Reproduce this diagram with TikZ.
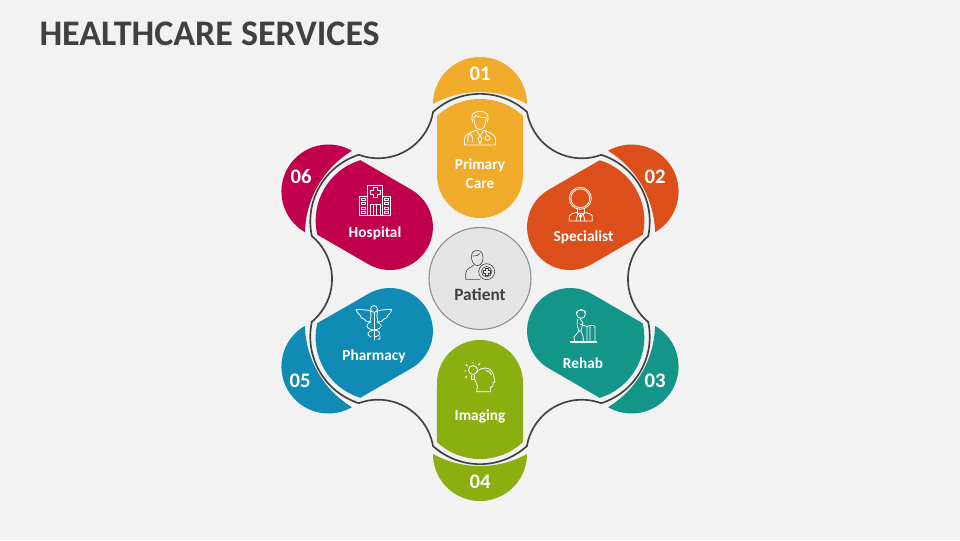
\documentclass[tikz,border=0pt]{standalone}
\usepackage{fontspec}
\setmainfont{Carlito}
\definecolor{bgcol}{HTML}{F2F2F2}
\definecolor{inkcol}{HTML}{404040}
\definecolor{amber}{HTML}{EFAB29}
\definecolor{rust}{HTML}{DC4F1A}
\definecolor{teal}{HTML}{14958A}
\definecolor{olive}{HTML}{8BAF10}
\definecolor{ocean}{HTML}{0F8BB5}
\definecolor{berry}{HTML}{C0004C}
\tikzset{every picture/.style={line width=0.75pt}}
\tikzset{
  icon/.style={draw=white,line width=0.6pt,line join=round,line cap=round},
  darkicon/.style={draw=inkcol,line width=0.45pt,line join=round,line cap=round},
  outline/.style={draw=inkcol,line width=1.25pt,line join=round,line cap=round},
  label/.style={text=white,inner sep=0.75pt,align=center,font=\fontsize{11.5pt}{14.2pt}\selectfont\bfseries},
  number/.style={text=white,inner sep=0.75pt,font=\fontsize{15.5pt}{18pt}\selectfont\bfseries},
  lobe/.pic={
    %petal body
    \path[pic actions] (-43,-104) -- (-43,-163) arc[start angle=226.9,end angle=313.1,radius=63] -- (43,-104) arc[start angle=0,end angle=180,radius=43] -- cycle;
    %number cap
    \path[pic actions] (-47,-175) arc[start angle=180,end angle=360,radius=47] arc[start angle=298.66,end angle=241.34,radius=98] -- cycle;
    %outer line, one lobe and one dent
    \draw[outline] (-47,-167) arc[start angle=227.8,end angle=312.2,radius=70] arc[start angle=170.4,end angle=69.8,radius=55.6];
  }
}
\begin{document}
\begin{tikzpicture}[x=0.75pt,y=0.75pt,yscale=-1,xscale=1]
\fill[bgcol] (0,0) rectangle (960,540);

% Title
\node (title) [anchor=west,inner sep=0.75pt,text=inkcol,font=\fontsize{27pt}{32pt}\selectfont\bfseries] at (38,34) {HEALTHCARE SERVICES};

% Lobes
\pic[fill=amber,yscale=-1,rotate=0] at (480,279) {lobe};
\pic[fill=rust,yscale=-1,rotate=60] at (480,279) {lobe};
\pic[fill=teal,yscale=-1,rotate=120] at (480,279) {lobe};
\pic[fill=olive,yscale=-1,rotate=180] at (480,279) {lobe};
\pic[fill=ocean,yscale=-1,rotate=240] at (480,279) {lobe};
\pic[fill=berry,yscale=-1,rotate=300] at (480,279) {lobe};

% Centre circle
\draw[draw=gray!90,fill=black!10,line width=0.8pt] (480,278.5) circle[radius=51];

% Text Node
\node (num01) [number] at (480,74) {01};
\node (num02) [number] at (655,177) {02};
\node (num03) [number] at (655,381) {03};
\node (num04) [number] at (480,482) {04};
\node (num05) [number] at (300,381) {05};
\node (num06) [number] at (301,177) {06};
\node (primary) [label] at (480,173.5) {Primary\\Care};
\node (specialist) [label] at (583.5,237) {Specialist};
\node (rehab) [label] at (583,363) {Rehab};
\node (imaging) [label] at (480,416.5) {Imaging};
\node (pharmacy) [label] at (374,356.5) {Pharmacy};
\node (hospital) [label] at (375,233) {Hospital};
\node (patient) [inner sep=0.75pt,text=inkcol,font=\fontsize{13pt}{15pt}\selectfont\bfseries] at (480,294) {Patient};

%Icon: doctor
\draw[icon] (472.5,122) .. controls (471,114) and (473,111.5) .. (480,111.5) .. controls (487,111.5) and (489,114) .. (487.5,122);
\draw[icon] (474,117.5) .. controls (474,126) and (476.5,129.5) .. (480,129.5) .. controls (483.5,129.5) and (486,126) .. (486,117.5) .. controls (482,118) and (478,117) .. (476,115) .. controls (476,116) and (475,117) .. (474,117.5);
\draw[icon] (464.5,145) -- (464.5,138.5) .. controls (465,134.5) and (470,133) .. (476,130) -- (480,136) -- (484,130) .. controls (490,133) and (495,134.5) .. (495.5,138.5) -- (495.5,145) -- cycle;
\draw[icon] (480,136) -- (478,139) -- (480,144) -- (482,139) -- cycle;
\draw[icon] (470,133) .. controls (468,135) and (467.5,138) .. (468,142) (470,133) .. controls (472,135) and (473,138) .. (472.5,142);
\draw[icon] (485,131) -- (487.5,135.5);
\draw[icon] (487.5,138) circle[radius=2.4];

%Icon: magnifier and person
\draw[icon] (580.3,198.3) circle[radius=11] (580.3,198.3) circle[radius=9.4];
\draw[icon] (577,209.5) -- (577,213) -- (584,213) -- (584,209.5);
\draw[icon] (569.3,221) -- (569.3,216) .. controls (570,214) and (573,213) .. (577,212.5) (592.3,221) -- (592.3,216) .. controls (591.5,214) and (588,213) .. (584,212.5) (569.3,221) -- (592.3,221);
\draw[icon] (578,213) -- (576,221) (580.5,213) -- (580.5,221) (583,213) -- (585,221) (578,213) -- (580.5,218) -- (583,213);

%Icon: person with walker
\draw[icon] (581,314) circle[radius=4.4];
\draw[icon] (576.5,312.5) .. controls (578,309) and (584,309) .. (585.5,312);
\draw[icon] (578,319) .. controls (576,324) and (578,328) .. (579,331) -- (581,331) -- (583,323) -- (580,319);
\draw[icon] (580,324) -- (588,327);
\draw[icon] (579,331) -- (574,337) -- (574.5,341) (581,331) -- (583,336) -- (583.5,341);
\draw[icon] (587,341) -- (587,326.5) .. controls (589,325) and (594,325) .. (595,326.5) -- (595,341) (590,326) -- (590,341);
\draw[icon] (570.5,341) rectangle (596.5,342.7);

%Icon: head and bulb
\draw[icon] (477,372) .. controls (479,369) and (482,368) .. (485,368) .. controls (491,368) and (494,373) .. (494,378) -- (495,382) -- (493,382.5) -- (493,386) .. controls (493,387) and (491,387) .. (490.5,387) -- (490.5,391.7) -- (476.7,391.7) -- (477.5,386) .. controls (476,382) and (474.5,380) .. (474,377);
\draw[icon] (473,370) circle[radius=4.5];
\draw[icon] (471.5,375) -- (471.5,379) -- (474.5,379) -- (474.5,375);
\draw[icon] (486,370.5) .. controls (489,371) and (491,373) .. (491.5,375);
\draw[icon] (473,363.5) -- (473,362.5) (467.5,366) -- (466,364.5) (478.5,365) -- (480,363.5) (466,371) -- (464.5,371) (467,376) -- (465.5,377.5);

%Icon: caduceus
\draw[icon] (374,312.5) -- (374,340);
\draw[icon] (374,309) circle[radius=3.4];
\draw[icon] (370.5,311) .. controls (366,309.5) and (361,309.5) .. (356,309.5) .. controls (357,312) and (358,314) .. (360,315) .. controls (360,317) and (362,319) .. (364,319) .. controls (365,321) and (367,322) .. (370,322) -- (371,316) -- (370.5,311);
\draw[icon] (377.5,311) .. controls (382,309.5) and (387,309.5) .. (391.7,309.5) .. controls (391,312) and (390,314) .. (388,315) .. controls (388,317) and (386,319) .. (384,319) .. controls (383,321) and (381,322) .. (378,322) -- (377,316) -- (377.5,311);
\draw[icon] (371,322) .. controls (364,325) and (366,329) .. (374,330) .. controls (381,331) and (382,335) .. (375,337) (377,322) .. controls (384,325) and (382,329) .. (374,330) .. controls (367,331) and (366,335) .. (371,337);
\draw[icon] (378,339.5) .. controls (380,339.5) and (380.5,338) .. (380,336);

%Icon: hospital
\draw[icon] (367.3,215.7) -- (367.3,185) -- (382.7,185) -- (382.7,215.7);
\draw[icon] (359.3,215.7) rectangle (367.3,196);
\draw[icon] (382.7,215.7) rectangle (390.7,196);
\draw[icon] (359.3,215.7) -- (390.7,215.7);
\draw[icon] (373,187.3) -- (377,187.3) -- (377,190.5) -- (380,190.5) -- (380,194) -- (377,194) -- (377,197.2) -- (373,197.2) -- (373,194) -- (370,194) -- (370,190.5) -- (373,190.5) -- cycle;
\draw[icon] (370,215.7) -- (370,204.5) -- (380,204.5) -- (380,215.7) (373.3,204.5) -- (373.3,215.7) (376.7,204.5) -- (376.7,215.7);
\draw[icon] (361.5,198) rectangle (365.5,200) (361.5,202.5) rectangle (365.5,204.5) (361.5,207) rectangle (365.5,209) (361.5,211) rectangle (365.5,213);
\draw[icon] (384.5,198) rectangle (388.5,200) (384.5,202.5) rectangle (388.5,204.5) (384.5,207) rectangle (388.5,209) (384.5,211) rectangle (388.5,213);

%Icon: patient
\draw[darkicon] (471.5,258) .. controls (471,252) and (474,250.5) .. (477.5,250.5) .. controls (481,250.5) and (483,253) .. (483,258) .. controls (483,263) and (480,265.5) .. (477.5,265.5) .. controls (475,265.5) and (472,263) .. (471.5,258);
\draw[darkicon] (473,256) .. controls (476,256.5) and (479,255) .. (480,253.5);
\draw[darkicon] (474,265) .. controls (472,267) and (466,268) .. (465.7,274) -- (465.7,279.3) -- (480,279.3);
\draw[darkicon] (486.7,271.7) circle[radius=8] (486.7,271.7) circle[radius=5.2];
\draw[darkicon] (485.2,268.5) -- (488.2,268.5) -- (488.2,270.2) -- (489.9,270.2) -- (489.9,273.2) -- (488.2,273.2) -- (488.2,274.9) -- (485.2,274.9) -- (485.2,273.2) -- (483.5,273.2) -- (483.5,270.2) -- (485.2,270.2) -- cycle;

\end{tikzpicture}
\end{document}
